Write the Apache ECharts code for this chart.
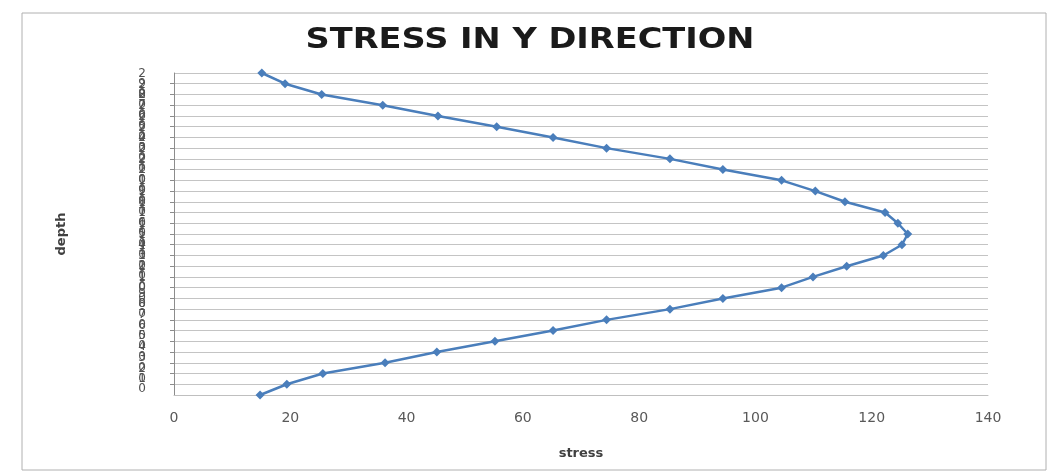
<!DOCTYPE html>
<html>
<head>
<meta charset="utf-8">
<script src="https://cdn.jsdelivr.net/npm/echarts@6/dist/echarts.min.js"></script>
<style>
html,body{margin:0;padding:0;background:#fff;}
#chart{width:1064px;height:473px;}
</style>
</head>
<body>
<div id="chart"></div>
<script>
// depth values (y) and stress values (x)
const depth = [0,10,20,30,40,50,60,70,80,90,100,110,120,130,140,150,160,170,180,190,200,210,220,230,240,250,260,270,280,290,300];
const stress = [14.8,19.4,25.6,36.3,45.2,55.2,65.2,74.4,85.3,94.4,104.5,109.9,115.7,122.0,125.2,126.2,124.5,122.3,115.4,110.3,104.5,94.4,85.3,74.4,65.2,55.5,45.4,35.9,25.4,19.1,15.1];
const xTicks = [0,20,40,60,80,100,120,140];
const titleText = 'STRESS IN Y DIRECTION';
const xName = 'stress';
const yName = 'depth';

const points = depth.map((d, i) => [stress[i], d]);

const chart = echarts.init(document.getElementById('chart'));
chart.setOption({
  animation: false,
  backgroundColor: '#ffffff',
  graphic: [{
    type: 'rect',
    shape: {x: 22, y: 13, width: 1024, height: 457},
    style: {fill: 'none', stroke: '#b0b0b0', lineWidth: 1},
    silent: true,
    z: -1
  }, {
    type: 'text',
    x: 530,
    y: 41,
    scaleX: 1.2,
    originX: 0,
    style: {
      text: titleText,
      font: 'bold 28px "DejaVu Sans"',
      fill: '#1a1a1a',
      align: 'center',
      verticalAlign: 'middle'
    },
    silent: true
  }],
  grid: {left: 174, right: 76, top: 73, bottom: 78},
  xAxis: {
    type: 'value',
    min: xTicks[0],
    max: xTicks[xTicks.length - 1],
    interval: 20,
    name: xName,
    nameLocation: 'middle',
    nameGap: 52,
    nameTextStyle: {fontFamily: 'DejaVu Sans', fontWeight: 'bold', fontSize: 13, color: '#404040'},
    axisLine: {show: true, lineStyle: {color: '#bfbfbf'}},
    axisTick: {show: false},
    splitLine: {show: false},
    axisLabel: {margin: 16, fontFamily: 'DejaVu Sans', fontSize: 14, color: '#595959'}
  },
  yAxis: {
    type: 'value',
    min: 0,
    max: 300,
    interval: 10,
    name: yName,
    nameLocation: 'middle',
    nameRotate: 90,
    nameGap: 106,
    nameTextStyle: {fontFamily: 'DejaVu Sans', fontWeight: 'bold', fontSize: 13, color: '#404040'},
    axisLine: {show: true, lineStyle: {color: '#8c8c8c'}},
    axisTick: {show: true, length: 4, lineStyle: {color: '#8c8c8c'}},
    splitLine: {show: true, lineStyle: {color: '#c4c4c4', width: 1}},
    axisLabel: {
      margin: 28,
      fontFamily: 'DejaVu Sans',
      fontSize: 12,
      lineHeight: 10,
      color: '#505050',
      formatter: v => String(v).split('').join('\n')
    }
  },
  series: [{
    type: 'line',
    data: points,
    symbol: 'diamond',
    symbolSize: 9,
    itemStyle: {color: '#4a7ebb'},
    lineStyle: {color: '#4a7ebb', width: 2.5}
  }]
});
</script>
</body>
</html>
